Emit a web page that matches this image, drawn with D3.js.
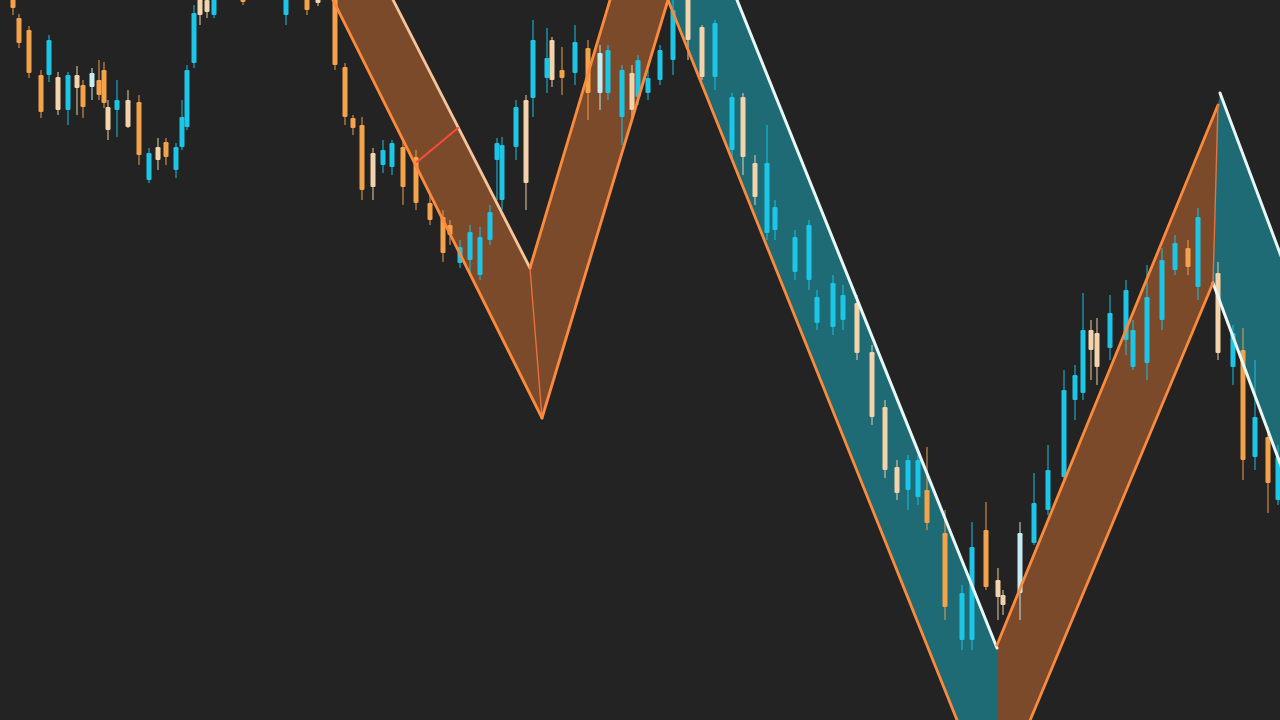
<!DOCTYPE html>
<html><head><meta charset="utf-8">
<script src="https://cdn.jsdelivr.net/npm/d3@7"></script>
<style>html,body{margin:0;padding:0;background:#232323;overflow:hidden}</style>
</head><body><svg id="c" width="1280" height="720"></svg>
<script>
// ---- candle data (time units, price units) ----
const candleTime  = [13,19,29,41,49,58,68,77,83,92,99,104,108,117,128,139,149,158,166,176,182,187,194,200,207,214,243,286,307,318,335,345,353,362,373,383,392,403,416,430,443,450,460,470,480,490,497,502,516,526,533,547,552,562,575,588,600,608,622,632,638,648,660,673,688,702,715,732,743,755,767,775,795,809,817,833,843,857,872,885,897,908,918,927,945,962,972,986,998,1003,1020,1034,1048,1064,1075,1083,1091,1097,1110,1126,1133,1147,1162,1175,1188,1198,1218,1233,1243,1255,1268,1278];
const candleOpen  = [725,702,690,645,645,643,610,645,635,633,640,650,613,610,620,618,540,573,578,550,573,593,657,725,720,705,725,705,725,725,730,653,602,595,567,555,553,573,563,517,503,495,457,460,445,480,560,520,573,620,622,642,680,650,647,672,627,627,603,647,623,627,640,660,725,693,643,570,623,557,487,490,448,440,397,393,400,417,368,313,253,230,223,230,187,80,80,190,140,125,127,177,210,243,320,327,390,387,372,380,353,357,400,450,472,433,447,353,370,263,283,220];
const candleHigh  = [730,706,694,650,685,648,648,654,640,652,660,658,620,640,630,625,572,582,582,577,620,655,715,730,725,728,728,728,728,728,735,657,605,603,572,580,580,580,570,525,510,500,480,495,493,515,582,583,620,625,700,692,683,673,695,680,675,675,655,655,665,650,675,720,730,695,700,627,627,565,595,520,490,500,430,445,435,425,375,320,260,265,265,273,210,135,198,218,152,130,198,247,275,350,355,427,400,402,425,440,400,455,472,485,480,512,458,395,392,360,293,275];
const candleLow   = [705,672,642,602,638,605,595,605,602,620,620,612,580,583,592,555,537,550,555,542,570,590,652,695,702,702,715,695,705,714,650,595,585,520,520,547,545,515,510,495,458,475,452,445,440,475,520,510,560,510,603,627,633,625,635,600,610,620,575,600,615,620,635,645,660,640,630,560,545,515,480,480,440,430,390,385,390,360,295,242,220,210,215,190,100,70,70,130,100,105,100,175,205,240,300,320,340,335,360,365,350,340,390,445,445,420,360,335,240,250,207,215];
const candleClose = [712,677,647,608,680,610,645,632,613,647,625,617,590,620,593,565,567,560,563,573,603,650,707,705,708,725,718,725,710,717,655,603,592,530,533,570,577,533,517,500,467,485,473,488,483,508,577,575,613,537,680,662,640,642,678,627,667,670,650,610,660,642,670,710,680,643,697,623,563,523,557,513,483,495,423,437,425,367,303,250,227,260,260,197,113,127,173,133,123,115,187,217,250,330,345,390,370,353,407,430,390,423,460,477,453,503,367,387,260,303,237,263];
// 1 = pale / low-volume candle
const candleMuted = [0,0,0,0,0,1,0,1,0,1,0,0,1,0,1,0,0,1,0,0,0,0,0,1,1,0,0,0,0,1,0,0,0,0,1,0,0,0,0,0,0,0,0,0,0,0,0,0,0,1,0,0,1,0,0,0,1,0,0,1,0,0,0,0,1,1,0,0,1,1,0,0,0,0,0,0,0,1,1,1,1,0,0,0,0,0,0,0,1,1,1,0,0,0,0,0,1,1,0,0,0,0,0,0,0,0,1,0,0,0,0,0];

// ---- zigzag channel legs ----
const legTone = ['amber','amber','teal','amber','teal'];
const legFill = [
  [[388,730],[530,452],[542,302],[328,730]],
  [[530,452],[613,730],[671,730],[542,302]],
  [[664,730],[733,730],[997,72],[997,-10],[961,-10]],
  [[997,-10],[997,75],[1218,615],[1213,437],[1026,-10]],
  [[1220,627],[1290,440],[1290,230],[1213,437],[1218,615]]
];
const railKind = ['peach','orange','thin','orange','orange','white','orange','orange','thin','white','white','orange','red'];
const railPoints = [
  [[388,730],[530,452]],
  [[328,730],[542,302]],
  [[530,452],[542,302]],
  [[530,452],[613,730]],
  [[542,302],[668,720],[671,730]],
  [[733,730],[997,72]],
  [[664,730],[668,720],[961,-10]],
  [[997,75],[1218,615]],
  [[1218,615],[1213,437]],
  [[1220,627],[1290,440]],
  [[1213,437],[1290,230]],
  [[1026,-10],[1213,437]],
  [[417,558],[458,592]]
];

// ---- drawing ----
const W = 1280, H = 720;
const x = d3.scaleLinear().domain([0,1280]).range([0,W]);
const y = d3.scaleLinear().domain([0,720]).range([H,0]);
const svg = d3.select('#c');
svg.append('rect').attr('width',W).attr('height',H).attr('fill','#232323');
const defs = svg.append('defs');
defs.append('filter').attr('id','soft').attr('x','-50%').attr('y','-10%').attr('width','200%').attr('height','120%')
  .append('feGaussianBlur').attr('stdDeviation',0.6);
defs.append('filter').attr('id','glow').attr('x','-20%').attr('y','-20%').attr('width','140%').attr('height','140%')
  .append('feGaussianBlur').attr('stdDeviation',0.6);

const fillColor = {amber:'#7a4a2b', teal:'#1e6b75'};
const line = d3.line().x(d=>x(d[0])).y(d=>y(d[1]));

svg.append('g').selectAll('path').data(legFill).join('path')
  .attr('d', d=>line(d)+'Z')
  .attr('fill', (d,i)=>fillColor[legTone[i]]);

const candles = candleTime.map((t,i)=>({t, o:candleOpen[i], h:candleHigh[i], l:candleLow[i], c:candleClose[i], m:candleMuted[i]}));
function candleColor(d){
  const up = d.c >= d.o;
  if (d.m) return up ? '#c4ecf1' : '#f2d3ab';
  return up ? '#1fc6e6' : '#f4a34c';
}
const cg = svg.append('g').attr('filter','url(#soft)');
cg.selectAll('line').data(candles).join('line')
  .attr('x1',d=>x(d.t)).attr('x2',d=>x(d.t))
  .attr('y1',d=>y(d.h)).attr('y2',d=>y(d.l))
  .attr('stroke',candleColor).attr('stroke-width',1.4).attr('opacity',0.7);
cg.selectAll('rect').data(candles).join('rect')
  .attr('x',d=>x(d.t)-2.5).attr('width',5)
  .attr('y',d=>y(Math.max(d.o,d.c)))
  .attr('height',d=>Math.max(2, Math.abs(y(d.o)-y(d.c))))
  .attr('rx',1.2)
  .attr('fill',candleColor);

const railStyle = {
  peach:{c:'#f6c49a', w:2.8},
  orange:{c:'#fb8a3c', w:2.8},
  white:{c:'#e9f7f7', w:3},
  thin:{c:'#e8703e', w:1.4},
  red:{c:'#ff4a3a', w:2}
};
svg.append('g').selectAll('path').data(railPoints).join('path')
  .attr('d', line)
  .attr('fill','none')
  .attr('stroke',(d,i)=>railStyle[railKind[i]].c)
  .attr('stroke-width',(d,i)=>railStyle[railKind[i]].w)
  .attr('stroke-linejoin','round')
  .attr('stroke-linecap','round')
  .attr('filter','url(#glow)');
</script></body></html>
